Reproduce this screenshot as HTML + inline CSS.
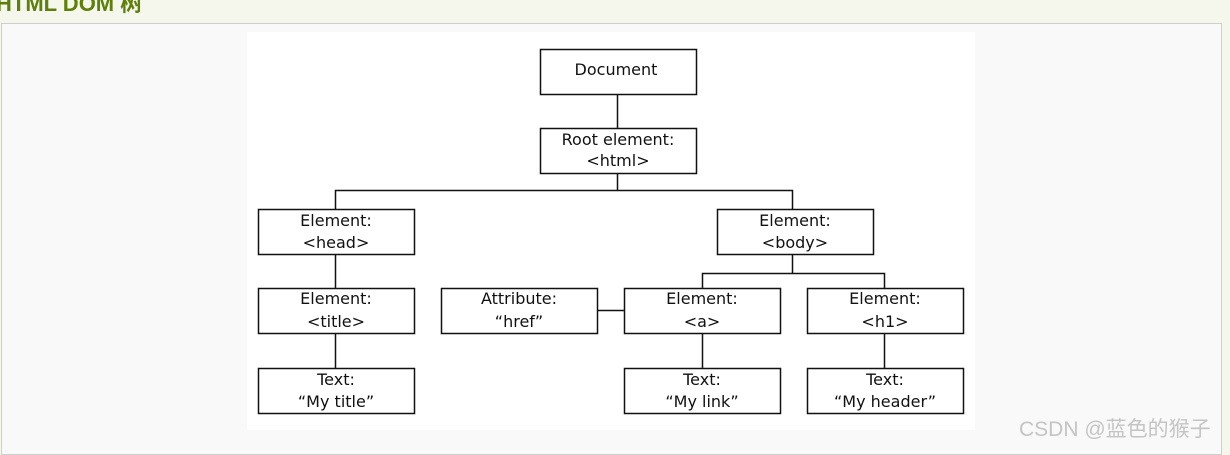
<!DOCTYPE html>
<html><head><meta charset="utf-8"><style>
body{margin:0;width:1230px;height:447px;overflow:hidden;background:#f5f7ec;position:relative;font-family:"Liberation Sans","Noto Sans CJK SC",sans-serif}
.h{position:absolute;left:-4px;top:-14px;font-size:22px;font-weight:bold;color:#5f7f0a;font-family:"Liberation Sans","Noto Sans CJK SC",sans-serif}
.panel{position:absolute;left:1px;top:23px;width:1219px;height:430px;background:#f9f9f9;border:1px solid #cfcfcf}
.img{position:absolute;left:247px;top:32px;width:728px;height:398px;background:#fff}
.wm{position:absolute;left:1019px;top:413px;font-size:21px;color:#c4c4c4;font-family:"Liberation Sans","Noto Sans CJK SC",sans-serif}
svg text{font-family:"DejaVu Sans",sans-serif;font-size:16px;fill:#111}
</style></head><body>
<div class="h">HTML DOM 树</div>
<div class="panel"></div>
<div class="img"></div>
<svg width="1230" height="447" style="position:absolute;left:0;top:0">
<g fill="#fff" stroke="#111" stroke-width="1.5">
<rect x="540.5" y="49.5" width="156" height="45"/>
<rect x="540.5" y="128.5" width="156" height="45"/>
<rect x="258.5" y="209.5" width="156" height="45"/>
<rect x="717.5" y="209.5" width="156" height="45"/>
<rect x="258.5" y="288.5" width="156" height="45"/>
<rect x="441.5" y="288.5" width="156" height="45"/>
<rect x="624.5" y="288.5" width="156" height="45"/>
<rect x="807.5" y="288.5" width="156" height="45"/>
<rect x="258.5" y="368.5" width="156" height="45"/>
<rect x="624.5" y="368.5" width="156" height="45"/>
<rect x="807.5" y="368.5" width="156" height="45"/>
</g>
<g stroke="#111" stroke-width="1.5" fill="none">
<path d="M617.5 94.5V128.5M617.5 173.5V190.5M335.5 209.5V190.5H792.5V209.5M792.5 254.5V273.5M702.5 288.5V273.5H884.5V288.5M335.5 254.5V288.5M335.5 333.5V368.5M702.5 333.5V368.5M884.5 333.5V368.5M597.5 310.5H624.5"/>
</g>
<g text-anchor="middle">
<text x="616" y="75">Document</text>
<text x="618" y="145">Root element:</text><text x="618" y="166">&lt;html&gt;</text>
<text x="336" y="226">Element:</text><text x="336" y="248">&lt;head&gt;</text>
<text x="795" y="226">Element:</text><text x="795" y="248">&lt;body&gt;</text>
<text x="336" y="304">Element:</text><text x="336" y="327">&lt;title&gt;</text>
<text x="519" y="304">Attribute:</text><text x="519" y="327">“href”</text>
<text x="702" y="304">Element:</text><text x="702" y="327">&lt;a&gt;</text>
<text x="885" y="304">Element:</text><text x="885" y="327">&lt;h1&gt;</text>
<text x="336" y="385">Text:</text><text x="336" y="407">“My title”</text>
<text x="702" y="385">Text:</text><text x="702" y="407">“My link”</text>
<text x="885" y="385">Text:</text><text x="885" y="407">“My header”</text>
</g>
</svg>
<div class="wm">CSDN @蓝色的猴子</div>
</body></html>
